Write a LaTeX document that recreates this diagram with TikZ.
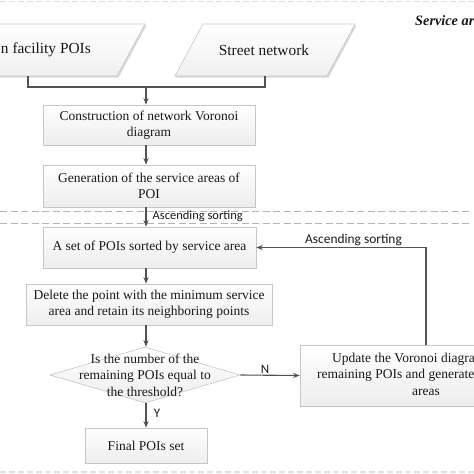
\documentclass[tikz,border=0pt]{standalone}
\usepackage{fontspec}
\setmainfont{Liberation Serif}
\newfontfamily\sansf{Carlito}
\usetikzlibrary{arrows.meta,shapes.geometric,shadows}
\begin{document}
\begin{tikzpicture}[x=1pt,y=-1pt,
 procbox/.style={draw=gray!45, line width=0.6pt, top color=white, bottom color=gray!14,
   drop shadow={opacity=0.25,shadow xshift=1.2pt,shadow yshift=-1.2pt},
   inner sep=0pt, font=\fontsize{13.5}{16}\selectfont, align=center, text=black!90},
 para/.style={draw=gray!45, line width=0.6pt, top color=white, bottom color=gray!12},
 paraShadow/.style={fill=gray!30, draw=none},
 flow/.style={draw=black!68, line width=1.1pt, -{Stealth[length=6.5pt,width=5pt]}},
 link/.style={draw=black!68, line width=1.1pt},
 sepline/.style={draw=gray!60, line width=0.8pt, dash pattern=on 7pt off 3.5pt},
 faintline/.style={draw=gray!25, line width=1.2pt, dash pattern=on 6pt off 3pt},
 lab/.style={font=\sansf\fontsize{12.5}{14}\selectfont, text=black!90, inner sep=0pt},
 body/.style={font=\fontsize{13.5}{16}\selectfont, text=black!90, inner sep=0pt, align=center},
 big/.style={font=\fontsize{15.4}{18}\selectfont, text=black!90, inner sep=0pt},
]
\useasboundingbox (0,0) rectangle (474,474);
\clip (0,0) rectangle (474,474);
\fill[white] (0,0) rectangle (474,474);

% frame dashed lines
\coordinate (tl) at (0,1.5); \coordinate (tr) at (474,1.5);
\coordinate (bl) at (0,472); \coordinate (br) at (474,472);
\draw[faintline] (tl) -- (tr);
\draw[faintline] (bl) -- (br);
\coordinate (s1l) at (0,211); \coordinate (s1r) at (472,211);
\coordinate (s2l) at (0,223); \coordinate (s2r) at (472,223);
\draw[sepline] (s1l) -- (s1r);
\draw[sepline] (s2l) -- (s2r);

% input parallelograms
\fill[paraShadow] (-6,25.5) -- (146.5,25.5) -- (118.5,77.5) -- (-34,77.5) -- cycle;
\path[para] (-7,24) -- (145,24) -- (117,76) -- (-35,76) -- cycle;
\fill[paraShadow] (204,25.5) -- (356.5,25.5) -- (328.5,77.5) -- (176,77.5) -- cycle;
\path[para] (203,24) -- (355,24) -- (327,76) -- (175,76) -- cycle;
\node[big, anchor=east] (poi) at (91,50) {n facility POIs};
\node[big] (street) at (264,50) {Street network};
\node[font=\bfseries\itshape\fontsize{14.3}{16}\selectfont, text=black!90, inner sep=0pt, anchor=west] (title) at (415,21) {Service ar};

\coordinate (pA) at (28,76.3);
\coordinate (pB) at (265,76.3);
\coordinate (jn) at (146,87);
\coordinate (ax) at (146,0);

% process boxes
\node[procbox, minimum width=212pt, minimum height=40pt] (b1) at (149,125) {Construction of network Voronoi\\diagram};
\node[procbox, minimum width=212pt, minimum height=42pt] (b2) at (149,186) {Generation of the service areas of\\POI};
\node[procbox, minimum width=213pt, minimum height=41pt] (b3) at (149.5,247.5) {A set of POIs sorted by service area};
\node[procbox, minimum width=246pt, minimum height=41pt] (b4) at (149,304.5) {Delete the point with the minimum service\\area and retain its neighboring points};
\node[diamond, draw=gray!45, line width=0.6pt, top color=white, bottom color=gray!14,
   minimum width=190pt, minimum height=56pt, inner sep=0pt] (d) at (145,375) {};
\node[body, font=\fontsize{13.5}{16.5}\selectfont] (dt) at (145,375) {Is the number of the\\remaining POIs equal to\\the threshold?};
\node[procbox, minimum width=252pt, minimum height=61pt] (rb) at (426,375.5) {};
\node[body, anchor=west] (rt1) at (332,359) {Update the Voronoi diagra};
\node[body, anchor=west] (rt2) at (317,375.5) {remaining POIs and generate};
\node[body] (rt3) at (426,392) {areas};
\node[procbox, minimum width=122pt, minimum height=35pt] (fin) at (146,445.5) {Final POIs set};

% connectors
\draw[link] (pA) |- (jn) -| (pB);
\draw[flow] (jn) -- (b1.north -| jn);
\draw[flow] (b1.south -| ax) -- (b2.north -| ax);
\draw[flow] (b2.south -| ax) -- (b3.north -| ax);
\draw[flow] (b3.south -| ax) -- (b4.north -| ax);
\draw[flow] (b4.south -| ax) -- (d.north -| ax);
\draw[flow] (d.south -| ax) -- (fin.north -| ax);
\draw[flow] (d.east) -- (rb.west);
\draw[flow] (rb.north) |- (b3.east);

% labels
\node[lab, anchor=west] (asc1) at (152.5,216.5) {Ascending sorting};
\node[lab, font=\sansf\fontsize{13.4}{15}\selectfont] (asc2) at (353.5,240) {Ascending sorting};
\node[lab, font=\sansf\fontsize{13}{15}\selectfont] (nl) at (265,369.5) {N};
\node[lab, font=\sansf\fontsize{13}{15}\selectfont] (yl) at (157,413) {Y};
\end{tikzpicture}
\end{document}
